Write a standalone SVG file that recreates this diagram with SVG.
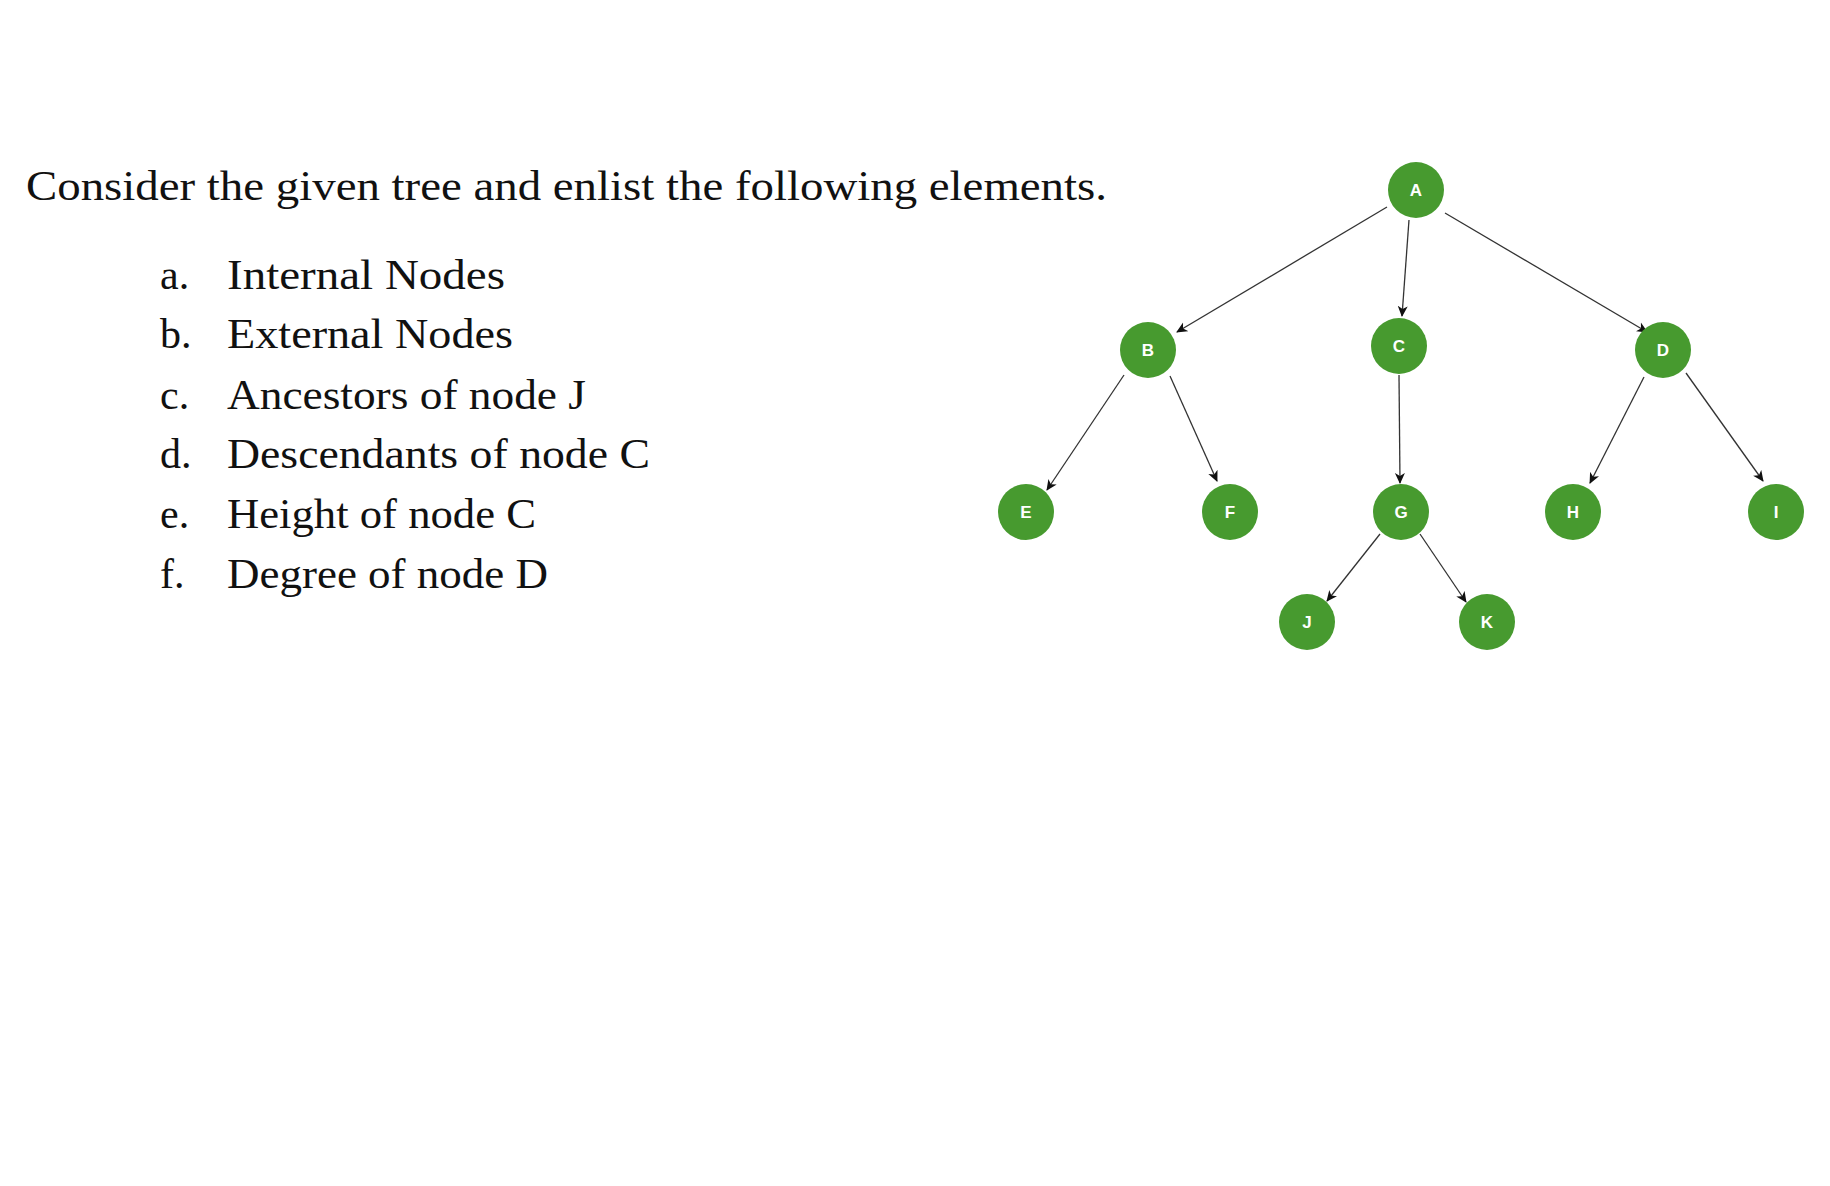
<svg xmlns="http://www.w3.org/2000/svg" width="1830" height="1186" viewBox="0 0 1830 1186">
<style>
.t{font-family:"Liberation Serif",serif;font-size:42px;fill:#111}
.n circle{fill:#479a2f}
.n text{font-family:"Liberation Sans",Arial,sans-serif;font-weight:bold;font-size:17px;fill:#fff;text-anchor:middle}
.e line{stroke:#333;stroke-width:1.3;marker-end:url(#ah)}
</style>
<defs>
<marker id="ah" markerUnits="userSpaceOnUse" markerWidth="12" markerHeight="12" refX="10" refY="5" orient="auto" viewBox="0 0 12 10">
<path d="M0,0 L11,5 L0,10 L3,5 Z" fill="#111"/>
</marker>
</defs>
<rect width="1830" height="1186" fill="#fff"/>
<g id="text">
<text class="t" x="26" y="200" textLength="1081" lengthAdjust="spacingAndGlyphs">Consider the given tree and enlist the following elements.</text>
<text class="t" x="160" y="289">a.</text><text class="t" x="227" y="289" textLength="278" lengthAdjust="spacingAndGlyphs">Internal Nodes</text>
<text class="t" x="160" y="348">b.</text><text class="t" x="227" y="348" textLength="286" lengthAdjust="spacingAndGlyphs">External Nodes</text>
<text class="t" x="160" y="409">c.</text><text class="t" x="227" y="409" textLength="359" lengthAdjust="spacingAndGlyphs">Ancestors of node J</text>
<text class="t" x="160" y="468">d.</text><text class="t" x="227" y="468" textLength="423" lengthAdjust="spacingAndGlyphs">Descendants of node C</text>
<text class="t" x="160" y="528">e.</text><text class="t" x="227" y="528" textLength="309" lengthAdjust="spacingAndGlyphs">Height of node C</text>
<text class="t" x="160" y="588">f.</text><text class="t" x="227" y="588" textLength="321" lengthAdjust="spacingAndGlyphs">Degree of node D</text>
</g>
<g id="edges" class="e">
<line x1="1387" y1="207" x2="1177" y2="332"/>
<line x1="1409" y1="220" x2="1402" y2="316"/>
<line x1="1445" y1="213" x2="1647" y2="332"/>
<line x1="1124" y1="375" x2="1047" y2="490"/>
<line x1="1170" y1="376" x2="1217" y2="481"/>
<line x1="1399" y1="375" x2="1400" y2="483"/>
<line x1="1644" y1="377" x2="1590" y2="483"/>
<line x1="1686" y1="373" x2="1763" y2="481"/>
<line x1="1380" y1="534" x2="1327" y2="601"/>
<line x1="1420" y1="534" x2="1466" y2="602"/>
</g>
<g id="A" class="n"><circle cx="1416" cy="190" r="28"/><text x="1416" y="196">A</text></g>
<g id="B" class="n"><circle cx="1148" cy="350" r="28"/><text x="1148" y="356">B</text></g>
<g id="C" class="n"><circle cx="1399" cy="346" r="28"/><text x="1399" y="352">C</text></g>
<g id="D" class="n"><circle cx="1663" cy="350" r="28"/><text x="1663" y="356">D</text></g>
<g id="E" class="n"><circle cx="1026" cy="512" r="28"/><text x="1026" y="518">E</text></g>
<g id="F" class="n"><circle cx="1230" cy="512" r="28"/><text x="1230" y="518">F</text></g>
<g id="G" class="n"><circle cx="1401" cy="512" r="28"/><text x="1401" y="518">G</text></g>
<g id="H" class="n"><circle cx="1573" cy="512" r="28"/><text x="1573" y="518">H</text></g>
<g id="I" class="n"><circle cx="1776" cy="512" r="28"/><text x="1776" y="518">I</text></g>
<g id="J" class="n"><circle cx="1307" cy="622" r="28"/><text x="1307" y="628">J</text></g>
<g id="K" class="n"><circle cx="1487" cy="622" r="28"/><text x="1487" y="628">K</text></g>
</svg>
